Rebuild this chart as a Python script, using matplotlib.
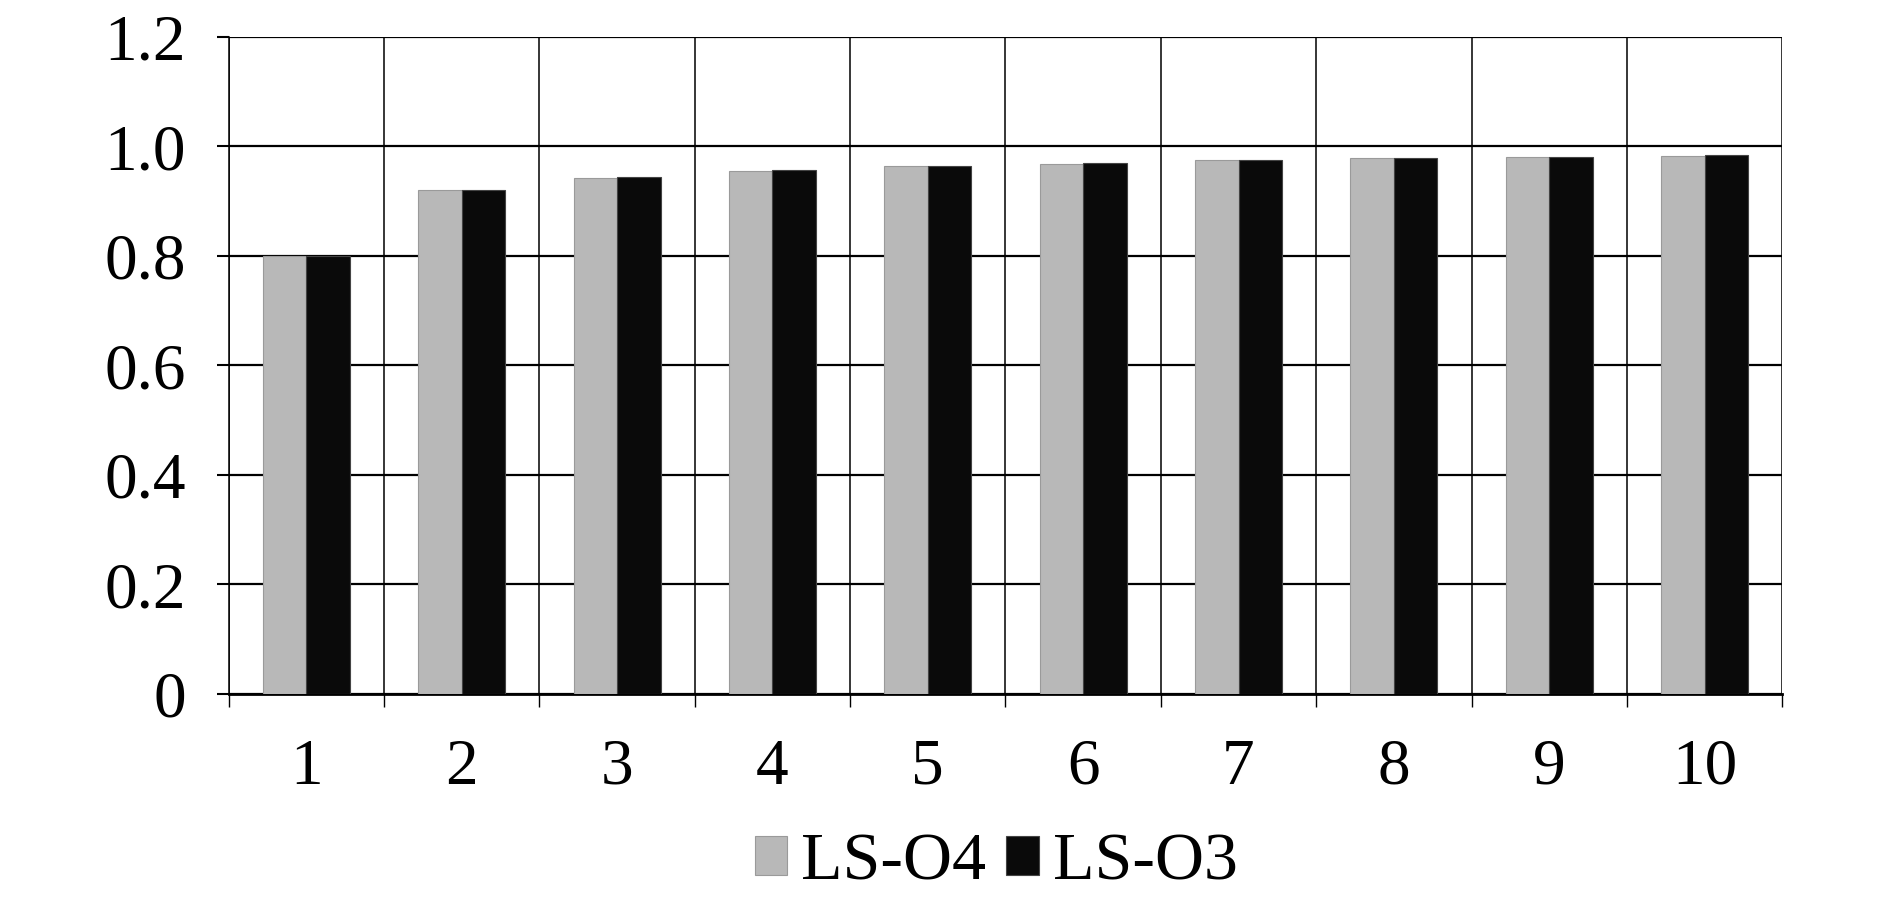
import numpy as np
import matplotlib.pyplot as plt

categories = ["1", "2", "3", "4", "5", "6", "7", "8", "9", "10"]
ls_o4 = [0.800, 0.920, 0.943, 0.955, 0.964, 0.967, 0.975, 0.979, 0.980, 0.983]
ls_o3 = [0.800, 0.921, 0.944, 0.957, 0.965, 0.969, 0.976, 0.979, 0.981, 0.984]
y_ticks = [0, 0.2, 0.4, 0.6, 0.8, 1.0, 1.2]
y_labels = ["0", "0.2", "0.4", "0.6", "0.8", "1.0", "1.2"]

plt.rcParams["font.family"] = ["Liberation Serif", "DejaVu Serif"]

fig = plt.figure(figsize=(18.9, 9), dpi=100)
ax = fig.add_axes([0.121, 0.229, 0.822, 0.730])

x = np.arange(1, len(categories) + 1)
w = 0.28
ax.bar(x - w / 2, ls_o4, w, color="#b8b8b8", edgecolor="#9a9a9a",
       linewidth=0.8, label="LS-O4", zorder=3)
ax.bar(x + w / 2, ls_o3, w, color="#0a0a0a", edgecolor="#444444",
       linewidth=0.8, label="LS-O3", zorder=3)

ax.set_xlim(0.5, 10.5)
ax.set_ylim(0, 1.2)
ax.set_yticks(y_ticks)
ax.set_yticklabels(y_labels)
ax.set_xticks(x)
ax.set_xticklabels(categories)
ax.set_xticks(np.arange(0.5, 10.6, 1), minor=True)

ax.tick_params(axis="x", which="major", length=0, pad=32, labelsize=47)
ax.tick_params(axis="x", which="minor", length=9, width=1.0, direction="out")
ax.tick_params(axis="y", length=9, width=1.5, direction="out", pad=22,
               labelsize=47)

ax.grid(axis="y", which="major", color="black", linewidth=1.6, zorder=1)
ax.grid(axis="x", which="minor", color="black", linewidth=1.1, zorder=1)
ax.set_axisbelow(True)

for side in ["top", "right"]:
    ax.spines[side].set_visible(False)
ax.spines["left"].set_linewidth(1.1)
ax.spines["bottom"].set_linewidth(2.0)

fig.legend(*ax.get_legend_handles_labels(), loc="center",
           bbox_to_anchor=(0.527, 0.041), ncol=2, frameon=False,
           fontsize=49, handlelength=0.48, handleheight=0.5,
           handletextpad=0.2, columnspacing=0.3, borderpad=0)

fig.savefig("out.png", dpi=100)
